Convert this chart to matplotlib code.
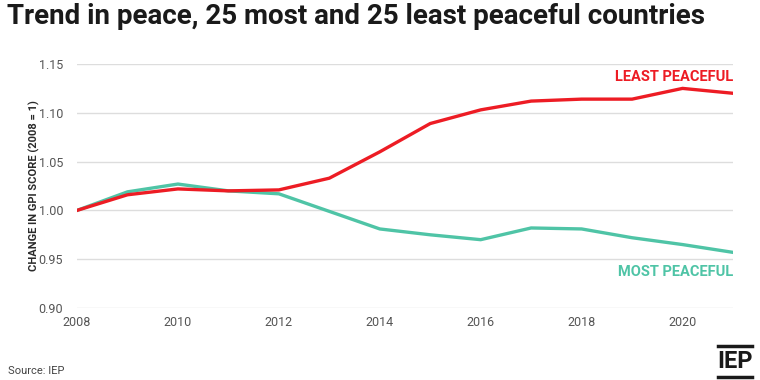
import matplotlib
matplotlib.use('Agg')
from matplotlib import pyplot as plt

years = [2008, 2009, 2010, 2011, 2012, 2013, 2014, 2015, 2016, 2017, 2018, 2019, 2020, 2021]
least_peaceful = [1.000, 1.016, 1.022, 1.020, 1.021, 1.033, 1.060, 1.089, 1.103, 1.112, 1.114, 1.114, 1.125, 1.120]
most_peaceful = [1.000, 1.019, 1.027, 1.020, 1.017, 0.999, 0.981, 0.975, 0.970, 0.982, 0.981, 0.972, 0.965, 0.957]
y_ticks = [0.90, 0.95, 1.00, 1.05, 1.10, 1.15]
x_ticks = [2008, 2010, 2012, 2014, 2016, 2018, 2020]

RED = '#ed1c24'
TEAL = '#4fc4a6'

plt.rcParams['font.family'] = ['Roboto', 'DejaVu Sans']

fig = plt.figure(figsize=(7.6, 3.8), dpi=100)
ax = fig.add_axes([77/760, 1 - 308/380, (733-77)/760, (308-64)/380])

ax.plot(years, most_peaceful, color=TEAL, lw=2.4, solid_joinstyle='miter')
ax.plot(years, least_peaceful, color=RED, lw=2.4, solid_joinstyle='miter')

ax.set_xlim(2008, 2021)
ax.set_ylim(0.90, 1.15)
ax.set_yticks(y_ticks)
ax.set_yticklabels(['{:.2f}'.format(v) for v in y_ticks])
ax.set_xticks(x_ticks)
ax.set_xticklabels([str(x) for x in x_ticks])
ax.grid(axis='y', color='#dddddd', lw=1)
ax.set_axisbelow(True)
for s in ax.spines.values():
    s.set_visible(False)
ax.tick_params(length=0, labelsize=9, colors='#555555')
ax.tick_params(axis='y', pad=10)
ax.tick_params(axis='x', pad=6)

ax.set_ylabel('CHANGE IN GPI SCORE (2008 = 1)', fontsize=8, fontweight='bold',
              color='#2a2a2a')
ax.yaxis.set_label_coords(-0.056, 0.5)

ax.text(2021, 1.137, 'LEAST PEACEFUL', color=RED, fontsize=10.5, fontweight='bold',
        ha='right', va='center')
ax.text(2021, 0.937, 'MOST PEACEFUL', color=TEAL, fontsize=10.5, fontweight='bold',
        ha='right', va='center')

fig.text(7/760, 1 - 16/380, 'Trend in peace, 25 most and 25 least peaceful countries',
         fontsize=20, fontweight='bold', color='#1a1a1a', va='center', ha='left')
fig.text(8/760, 1 - 371/380, 'Source: IEP', fontsize=8, color='#444444', va='center')

# IEP logo
fig.text(735/760, 1 - 362/380, 'IEP', fontsize=17, fontweight='bold', color='#1a1a1a',
         ha='center', va='center')
fig.add_artist(plt.Line2D([718/760, 752/760], [1 - 346/380, 1 - 346/380], color='#1a1a1a', lw=2.5))
fig.add_artist(plt.Line2D([718/760, 752/760], [1 - 377/380, 1 - 377/380], color='#1a1a1a', lw=2.5))

fig.savefig('out.png', dpi=100)
